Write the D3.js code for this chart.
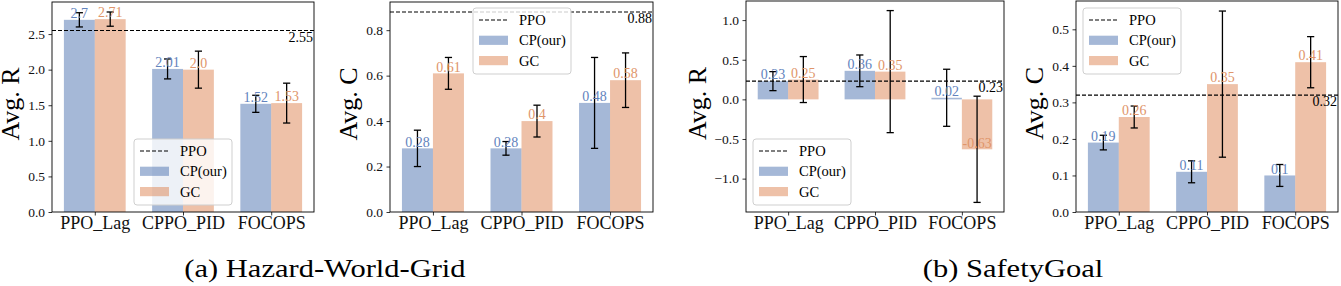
<!DOCTYPE html>
<html>
<head>
<meta charset="utf-8">
<script src="https://cdn.jsdelivr.net/npm/d3@7"></script>
<style>
body { margin:0; background:#fff; }
</style>
</head>
<body>
<script>
// categories and series
const categories = ["PPO_Lag", "CPPO_PID", "FOCOPS"];
const seriesNames = ["CP(our)", "GC"];
const baselineName = "PPO";
const yTitles = ["Avg. R", "Avg. C", "Avg. R", "Avg. C"];
const captions = ["(a) Hazard-World-Grid", "(b) SafetyGoal"];

// (a) Hazard-World-Grid, reward
const gridR_cp = [2.70, 2.01, 1.52];
const gridR_cpErr = [0.10, 0.14, 0.12];
const gridR_gc = [2.71, 2.00, 1.53];
const gridR_gcErr = [0.10, 0.26, 0.28];
const gridR_ppo = 2.55;

// (a) Hazard-World-Grid, cost
const gridC_cp = [0.28, 0.28, 0.48];
const gridC_cpErr = [0.08, 0.03, 0.20];
const gridC_gc = [0.61, 0.40, 0.58];
const gridC_gcErr = [0.07, 0.07, 0.12];
const gridC_ppo = 0.88;

// (b) SafetyGoal, reward
const goalR_cp = [0.23, 0.36, 0.02];
const goalR_cpErr = [0.12, 0.20, 0.36];
const goalR_gc = [0.25, 0.35, -0.63];
const goalR_gcErr = [0.29, 0.77, 0.67];
const goalR_ppo = 0.23;

// (b) SafetyGoal, cost
const goalC_cp = [0.19, 0.11, 0.10];
const goalC_cpErr = [0.02, 0.03, 0.03];
const goalC_gc = [0.26, 0.35, 0.41];
const goalC_gcErr = [0.03, 0.20, 0.07];
const goalC_ppo = 0.32;

const width = 1341, height = 286;
const serif = "'Liberation Serif', 'Times New Roman', serif";
const barFill = ["#4c72b0", "#dd8452"];
const labelFill = ["#6283bd", "#e0956a"];

const svg = d3.select("body").append("svg")
  .attr("width", width)
  .attr("height", height)
  .style("font-family", serif);

svg.append("rect").attr("width", width).attr("height", height).attr("fill", "#fff");

function addText(sel, size) {
  return sel.append("text").style("font-family", serif).attr("font-size", size).attr("fill", "#000");
}

// panel boxes (pixels) and legend corners
const panels = [
  {left:52, right:314, top:2, bottom:212, legend:[134,139],
   cp:gridR_cp, cpErr:gridR_cpErr, gc:gridR_gc, gcErr:gridR_gcErr, ppo:gridR_ppo},
  {left:390, right:653, top:2, bottom:212, legend:[473,8],
   cp:gridC_cp, cpErr:gridC_cpErr, gc:gridC_gc, gcErr:gridC_gcErr, ppo:gridC_ppo},
  {left:746, right:1004, top:1, bottom:212, legend:[753,139],
   cp:goalR_cp, cpErr:goalR_cpErr, gc:goalR_gc, gcErr:goalR_gcErr, ppo:goalR_ppo},
  {left:1076, right:1338, top:1, bottom:212, legend:[1083,8],
   cp:goalC_cp, cpErr:goalC_cpErr, gc:goalC_gc, gcErr:goalC_gcErr, ppo:goalC_ppo}
];

function valueText(v) {
  let s = String(v);
  if (s.indexOf(".") < 0) s += ".0";
  return s;
}

const barW = 0.35;

panels.forEach(function(p, pi) {
  const g = svg.append("g");

  const xScale = d3.scaleLinear()
    .domain([-barW - 0.135, categories.length - 1 + barW + 0.135])
    .range([p.left, p.right]);

  // y limits like matplotlib autoscale
  const lows = [], highs = [];
  [[p.cp, p.cpErr], [p.gc, p.gcErr]].forEach(function(s) {
    s[0].forEach(function(v, i) { lows.push(v - s[1][i]); highs.push(v + s[1][i]); });
  });
  let lo = Math.min(0, d3.min(lows));
  let hi = Math.max(p.ppo, d3.max(highs));
  const span = hi - lo;
  if (lo < 0) lo -= 0.05 * span;
  hi += 0.05 * span;

  const yScale = d3.scaleLinear().domain([lo, hi]).range([p.bottom, p.top]);

  const series = [
    {vals:p.cp, errs:p.cpErr, off:-barW/2, k:0},
    {vals:p.gc, errs:p.gcErr, off:barW/2, k:1}
  ];

  // bars
  series.forEach(function(s) {
    g.selectAll(null)
      .data(s.vals)
      .enter()
      .append("rect")
      .attr("x", function(d, i) { return xScale(i + s.off - barW/2); })
      .attr("width", xScale(barW) - xScale(0))
      .attr("y", function(d) { return yScale(Math.max(0, d)); })
      .attr("height", function(d) { return Math.abs(yScale(d) - yScale(0)); })
      .attr("fill", barFill[s.k])
      .attr("fill-opacity", 0.5);
  });

  // error bars
  series.forEach(function(s) {
    s.vals.forEach(function(v, i) {
      const cx = xScale(i + s.off);
      const y1 = yScale(v + s.errs[i]), y2 = yScale(v - s.errs[i]);
      g.append("line").attr("x1", cx).attr("x2", cx).attr("y1", y1).attr("y2", y2)
        .attr("stroke", "#000").attr("stroke-width", 1.3);
      [y1, y2].forEach(function(yy) {
        g.append("line").attr("x1", cx - 3.6).attr("x2", cx + 3.6).attr("y1", yy).attr("y2", yy)
          .attr("stroke", "#000").attr("stroke-width", 1.3);
      });
    });
  });

  // PPO reference line
  g.append("line")
    .attr("x1", p.left).attr("x2", p.right)
    .attr("y1", yScale(p.ppo)).attr("y2", yScale(p.ppo))
    .attr("stroke", "#000").attr("stroke-width", 1.1)
    .attr("stroke-dasharray", "4,2");

  addText(g, "14px")
    .attr("x", p.right - 1)
    .attr("y", yScale(p.ppo) + 11.3)
    .attr("text-anchor", "end")
    .text(valueText(p.ppo));

  // value labels
  series.forEach(function(s) {
    g.selectAll(null)
      .data(s.vals)
      .enter()
      .append("text")
      .style("font-family", serif)
      .attr("x", function(d, i) { return xScale(i + s.off); })
      .attr("y", function(d) { return yScale(d) - 1.8; })
      .attr("text-anchor", "middle")
      .attr("font-size", "14px")
      .attr("fill", labelFill[s.k])
      .text(function(d) { return valueText(d); });
  });

  // axes
  const yAxis = d3.axisLeft(yScale).ticks(6).tickFormat(d3.format(".1f"))
    .tickSizeInner(3.5).tickSizeOuter(0).tickPadding(3.5);
  const yg = g.append("g").attr("transform", "translate(" + p.left + ",0)").call(yAxis);
  yg.attr("font-family", null);
  yg.select(".domain").remove();
  yg.selectAll("text").style("font-family", serif).attr("font-size", "13.5px").attr("fill", "#111");
  yg.selectAll("line").attr("stroke-width", 0.8);

  const xAxis = d3.axisBottom(xScale)
    .tickValues(d3.range(categories.length))
    .tickFormat(function(d) { return categories[d]; })
    .tickSizeInner(3.5).tickSizeOuter(0).tickPadding(0.5);
  const xg = g.append("g").attr("transform", "translate(0," + p.bottom + ")").call(xAxis);
  xg.attr("font-family", null);
  xg.select(".domain").remove();
  xg.selectAll("text").style("font-family", serif).attr("font-size", "18px").attr("fill", "#111");
  xg.selectAll("line").attr("stroke-width", 0.8);

  // frame
  g.append("rect")
    .attr("x", p.left).attr("y", p.top)
    .attr("width", p.right - p.left).attr("height", p.bottom - p.top)
    .attr("fill", "none").attr("stroke", "#000").attr("stroke-width", 0.9);

  // y title, placed left of the widest tick label
  let maxW = 0;
  yg.selectAll("text").each(function() { maxW = Math.max(maxW, this.getComputedTextLength()); });
  const tx = p.left - 7 - maxW - 9;
  addText(g, "26px")
    .attr("transform", "translate(" + tx + "," + ((p.top + p.bottom) / 2 - 3) + ") rotate(-90)")
    .attr("text-anchor", "middle")
    .text(yTitles[pi]);

  // legend
  const lg = g.append("g").attr("transform", "translate(" + p.legend[0] + "," + p.legend[1] + ")");
  lg.append("rect")
    .attr("width", 98).attr("height", 66).attr("rx", 3)
    .attr("fill", "#fff").attr("fill-opacity", 0.8)
    .attr("stroke", "#cfcfcf").attr("stroke-width", 1);
  lg.append("line")
    .attr("x1", 6).attr("x2", 35).attr("y1", 12).attr("y2", 12)
    .attr("stroke", "#000").attr("stroke-width", 1.1).attr("stroke-dasharray", "4,2");
  addText(lg, "14.5px").attr("x", 46).attr("y", 17).text(baselineName);
  seriesNames.forEach(function(name, k) {
    const cy = 12 + (k + 1) * 20.3;
    lg.append("rect")
      .attr("x", 6).attr("y", cy - 4.6).attr("width", 29).attr("height", 9.2)
      .attr("fill", barFill[k]).attr("fill-opacity", 0.5);
    addText(lg, "14.5px").attr("x", 46).attr("y", cy + 5).text(name);
  });
});

// captions (the reference caption is a bit wider than its height suggests)
[[captions[0], 325], [captions[1], 1013]].forEach(function(c) {
  const t = addText(svg, "25px").attr("x", c[1]).attr("y", 277)
    .attr("text-anchor", "middle").text(c[0]);
  const w = t.node().getComputedTextLength();
  t.attr("textLength", w * 1.22).attr("lengthAdjust", "spacingAndGlyphs");
});
</script>
</body>
</html>
